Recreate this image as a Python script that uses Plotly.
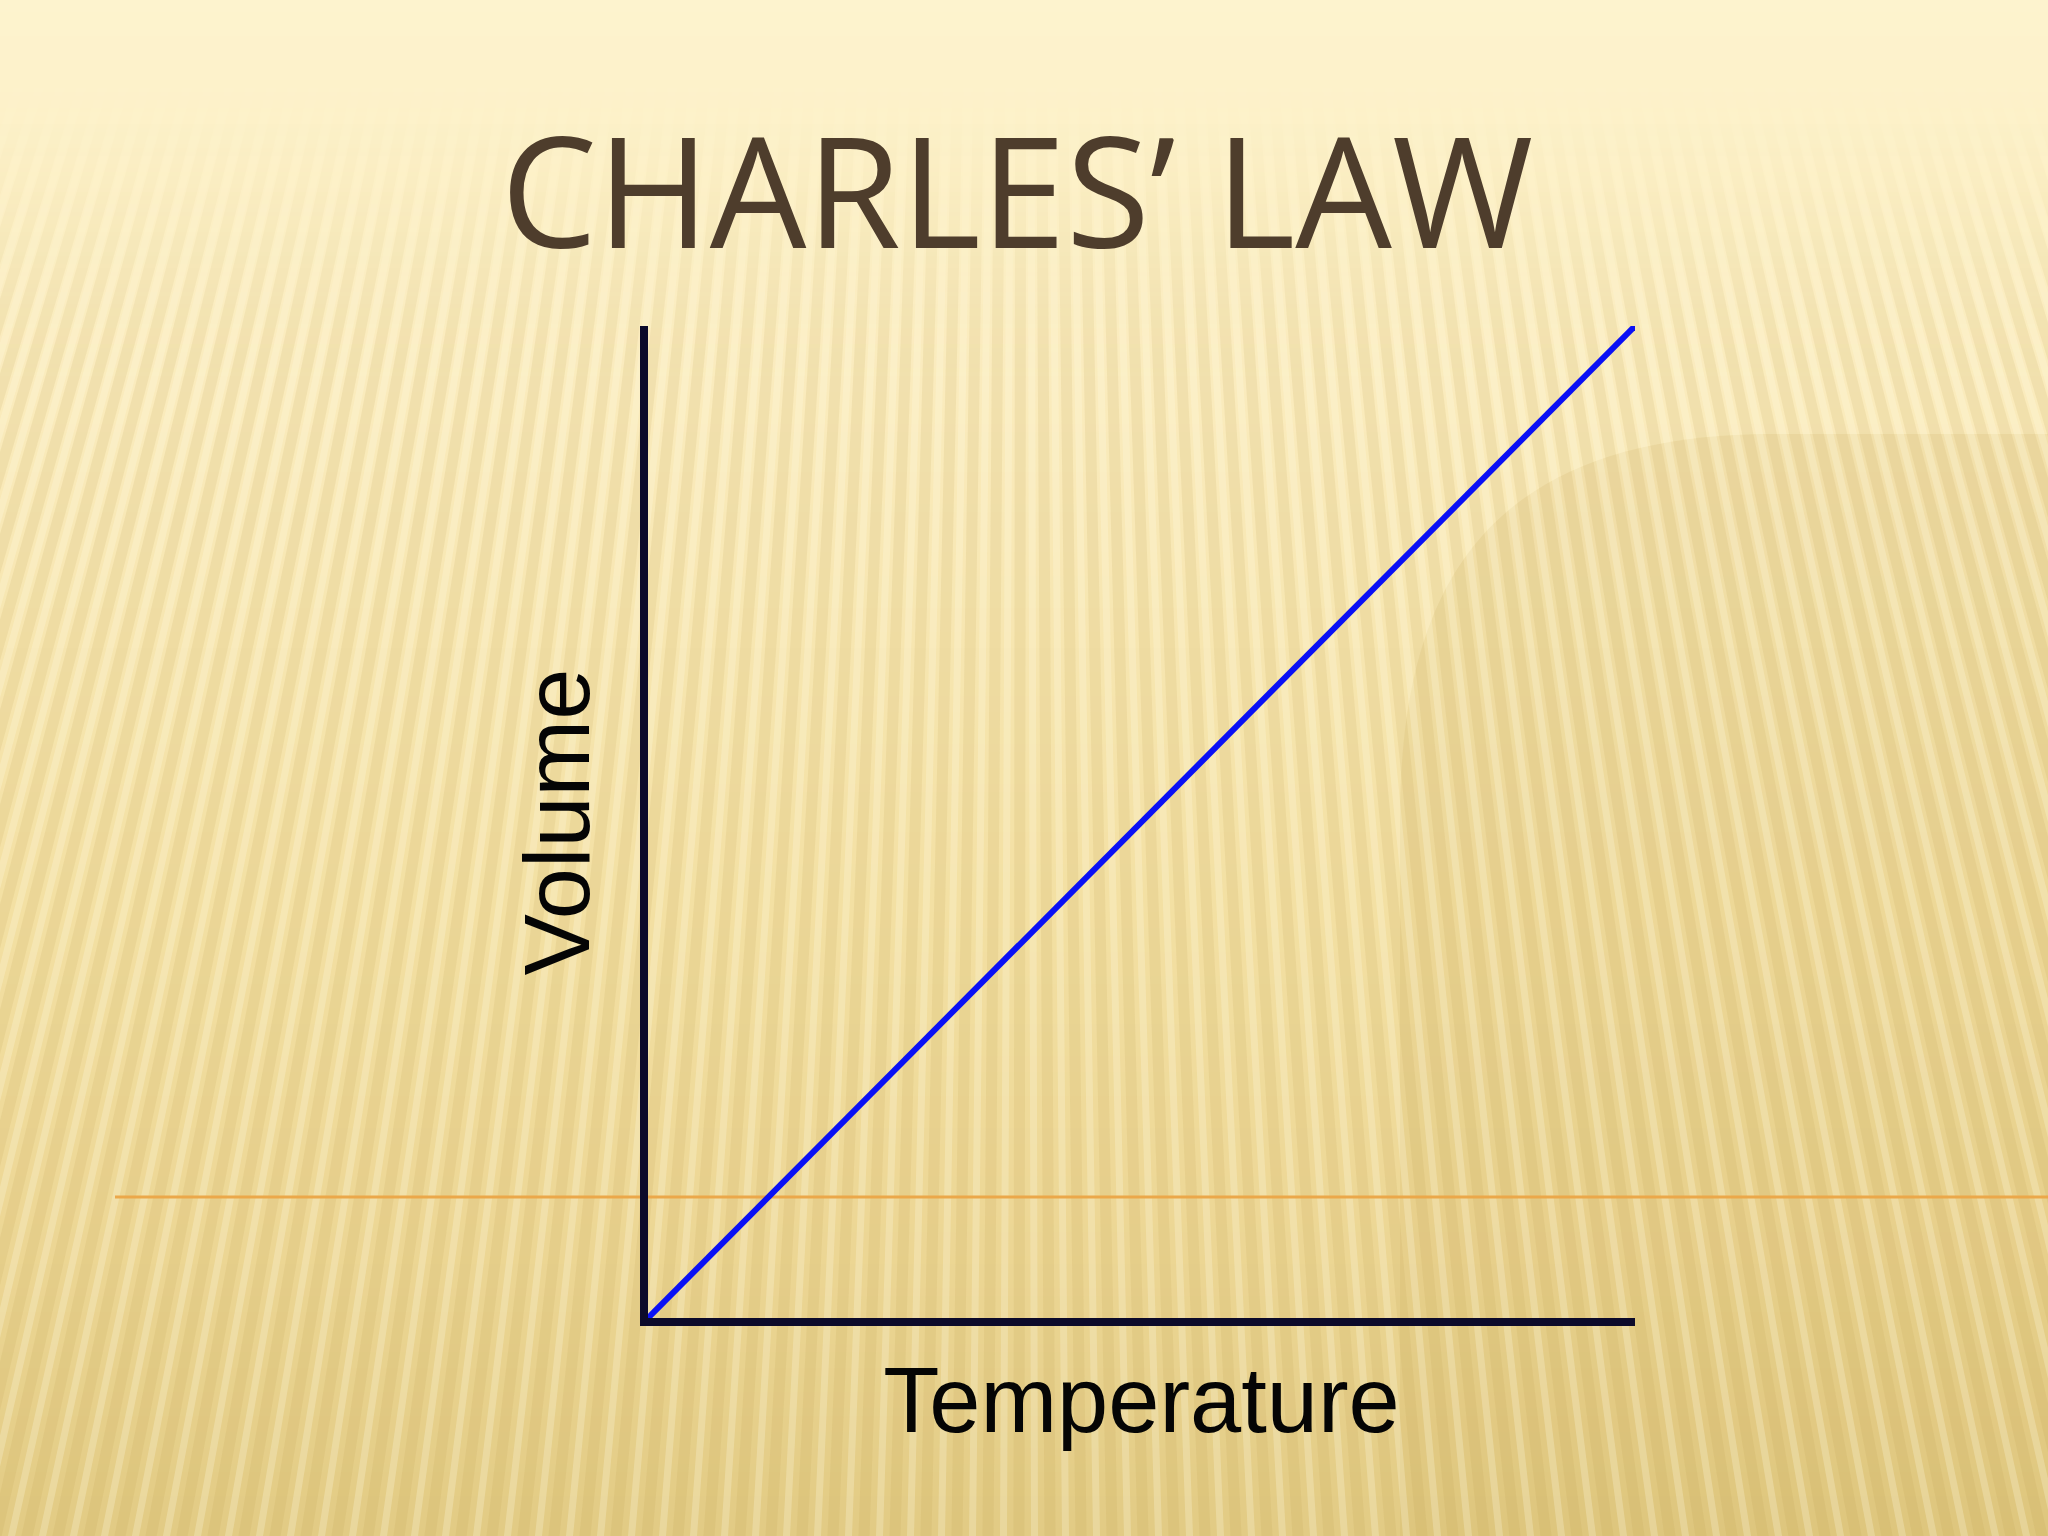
import plotly.graph_objects as go

# ---- data ----
temperature = [0, 100]
volume = [0, 100]
title_text = "CHARLES’ LAW"
x_label = "Temperature"
y_label = "Volume"

W, H = 2048, 1536


def px(x):
    return x / W


def py(y):
    return 1 - y / H


def lerp(a, b, t):
    return a + (b - a) * t


# background gradient stops (pixel y, rgb)
stops = [(0, (253, 243, 206)), (70, (253, 242, 203)), (400, (250, 235, 188)),
         (900, (243, 224, 163)), (1250, (236, 214, 148)), (1536, (226, 203, 132))]


def grad_color(y):
    for (y0, c0), (y1, c1) in zip(stops[:-1], stops[1:]):
        if y0 <= y <= y1:
            t = (y - y0) / (y1 - y0)
            return tuple(int(round(lerp(a, b, t))) for a, b in zip(c0, c1))
    return stops[-1][1]


shapes = []
nb = 192
bh = H // nb
for i in range(nb):
    y0 = i * bh
    y1 = (i + 1) * bh
    c = grad_color(y0 + bh / 2)
    shapes.append(dict(type="rect", xref="paper", yref="paper", layer="below",
                       x0=0, x1=1, y0=py(y1), y1=py(y0),
                       fillcolor="rgb(%d,%d,%d)" % c, line=dict(width=0)))

# big soft dome on the right
dome = ("M %f,%f L %f,%f C %f,%f %f,%f %f,%f L %f,%f L %f,%f Z" % (
    px(1400), py(1536), px(1400), py(820), px(1400), py(570), px(1500), py(440),
    px(1760), py(434), px(2048), py(434), px(2048), py(1536)))
shapes.append(dict(type="path", path=dome, xref="paper", yref="paper", layer="below",
                   fillcolor="rgba(205,175,95,0.16)", line=dict(width=0)))

# fan of stripes
ox, oy = 1024, -3000
spacing = 31


def stripe_path(offset, y0, y1):
    parts = []
    xb = -500 + offset
    while xb < 2600:
        xa = ox + (xb - ox) * (y0 - oy) / (H - oy)
        xc = ox + (xb - ox) * (y1 - oy) / (H - oy)
        parts.append("M %f,%f L %f,%f" % (px(xa), py(y0), px(xc), py(y1)))
        xb += spacing
    return " ".join(parts)


shapes.append(dict(type="path", path=stripe_path(0, 40, 1540), xref="paper", yref="paper",
                   layer="below", line=dict(color="rgba(185,150,65,0.12)", width=11)))
shapes.append(dict(type="path", path=stripe_path(spacing / 2, 40, 1540), xref="paper", yref="paper",
                   layer="below", line=dict(color="rgba(255,250,228,0.26)", width=7)))

# fade the stripes out toward the light top band
fade_start, fade_bot = 70, 400
step = 4
for y in range(0, fade_bot, step):
    if y < fade_start:
        op = 1.0
    else:
        t = (y + step / 2 - fade_start) / (fade_bot - fade_start)
        t = min(max(t, 0), 1)
        op = 1 - t * t * (3 - 2 * t)
    if op <= 0.01:
        continue
    c = grad_color(y + step / 2)
    shapes.append(dict(type="rect", xref="paper", yref="paper", layer="below",
                       x0=0, x1=1, y0=py(y + step), y1=py(y),
                       fillcolor="rgba(%d,%d,%d,%.3f)" % (c + (op,)), line=dict(width=0)))

# orange rule
shapes.append(dict(type="line", xref="paper", yref="paper", layer="below",
                   x0=px(115), x1=1, y0=py(1197), y1=py(1197),
                   line=dict(color="#eba84a", width=3)))

fig = go.Figure()
fig.add_trace(go.Scatter(x=temperature, y=volume, mode="lines",
                         line=dict(color="#0a10f5", width=6), hoverinfo="skip",
                         showlegend=False))

axis_common = dict(showgrid=False, zeroline=False, ticks="", showticklabels=False,
                   showline=True, linewidth=8, linecolor="#0c0a2a", fixedrange=True)

fig.update_layout(
    width=W, height=H,
    margin=dict(l=0, r=0, t=0, b=0),
    paper_bgcolor="rgb(253,243,206)",
    plot_bgcolor="rgba(0,0,0,0)",
    shapes=shapes,
    showlegend=False,
    title=dict(text=title_text, x=px(1017), xanchor="center", y=py(194), yanchor="middle",
               yref="container",
               font=dict(family="Open Sans", size=153, color="#4e3d2c")),
    xaxis=dict(domain=[px(648), px(1635)], range=[0, 100], **axis_common,
               title=dict(text=x_label, standoff=46,
                          font=dict(family="Liberation Sans, Arial", size=92, color="#050505"))),
    yaxis=dict(domain=[py(1318), py(326)], range=[0, 100], **axis_common,
               title=dict(text=y_label, standoff=23,
                          font=dict(family="Liberation Sans, Arial", size=92, color="#050505"))),
)

fig.write_html("out.html", config={"displayModeBar": False},
               post_script="document.body.style.margin='0';document.body.style.overflow='hidden';")
